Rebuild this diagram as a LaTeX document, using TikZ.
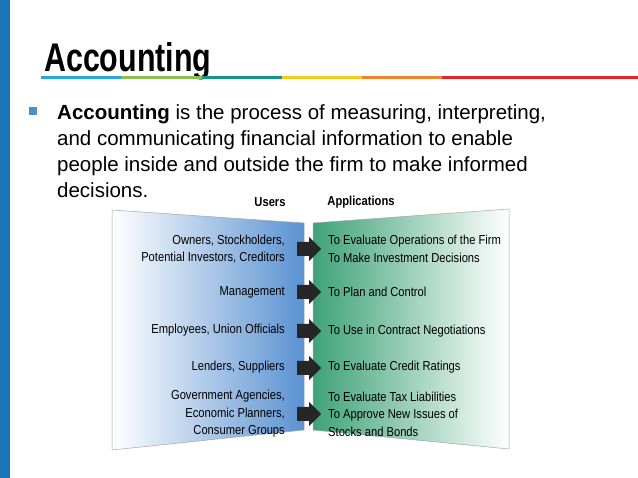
\documentclass[tikz,border=0pt]{standalone}
\usepackage{fontspec}
\setmainfont{Liberation Sans}
\newfontfamily\cond[FakeStretch=0.86]{Liberation Sans}
\newfontfamily\titlef[FakeStretch=0.76]{Liberation Sans}
\definecolor{barblue}{HTML}{1B75BC}
\definecolor{pblue}{HTML}{5A92D2}
\definecolor{pgreen}{HTML}{3FA27A}
\begin{document}
\begin{tikzpicture}[x=1pt,y=-1pt,
  lt/.style={font=\cond\fontsize{13}{17.5}\selectfont,align=right,anchor=east,inner sep=0},
  rt/.style={font=\cond\fontsize{13}{17.5}\selectfont,align=left,anchor=west,inner sep=0},
  hd/.style={font=\cond\bfseries\fontsize{13}{14}\selectfont,inner sep=0},
  blk/.style={fill=black!85,draw=none}]
\useasboundingbox (0,0) rectangle (638,478);
\fill[white] (0,0) rectangle (638,478);
\fill[barblue] (0,0) rectangle (10,478);
\node[anchor=base west,inner sep=0,font=\titlef\bfseries\fontsize{40}{40}\selectfont] (title) at (44,72) {Accounting};
\foreach \a/\b/\c in {41/121/29A8E0,121/202/8CC04B,202/282/14958A,282/362/F2CB1D,362/442/F0842A,442/638/E5252A}{
  \definecolor{segc}{HTML}{\c}
  \fill[segc] (\a,76.5) rectangle (\b,79.5);}
\fill[barblue!80] (29,107) rectangle (37,115);
\node[anchor=north west,inner sep=0,align=left,font=\fontsize{20.5}{26}\selectfont] (body) at (57,104)
 {\textbf{Accounting} is the process of measuring, interpreting,\\
  and communicating financial information to enable\\
  people inside and outside the firm to make informed\\
  decisions.};
% panels
\shade[left color=white,right color=pblue,draw=gray!70,line width=0.5pt]
  (112,210) -- (304,223) -- (304,430) -- (112,450) -- cycle;
\shade[left color=pgreen,right color=white,draw=gray!70,line width=0.5pt]
  (313,223) -- (509,209) -- (509,449) -- (313,430) -- cycle;
\node[hd] (users) at (270,202) {Users};
\node[hd] (apps) at (361,202) {Applications};
\foreach \y in {249,292,331,368,414}
  \fill[blk] (297,\y-7) -- (309,\y-7) -- (309,\y-12) -- (321,\y) -- (309,\y+12) -- (309,\y+7) -- (297,\y+7) -- cycle;
\node[lt] (u1) at (285,249) {Owners, Stockholders,\\Potential Investors, Creditors};
\node[lt] (u2) at (285,292) {Management};
\node[lt] (u3) at (285,330) {Employees, Union Officials};
\node[lt] (u4) at (285,367) {Lenders, Suppliers};
\node[lt] (u5) at (285,414) {Government Agencies,\\Economic Planners,\\Consumer Groups};
\node[rt] (a1) at (328,249) {To Evaluate Operations of the Firm\\To Make Investment Decisions};
\node[rt] (a2) at (328,292) {To Plan and Control};
\node[rt] (a3) at (328,331) {To Use in Contract Negotiations};
\node[rt] (a4) at (328,367) {To Evaluate Credit Ratings};
\node[rt] (a5) at (328,414) {To Evaluate Tax Liabilities\\To Approve New Issues of\\Stocks and Bonds};
\end{tikzpicture}
\end{document}
